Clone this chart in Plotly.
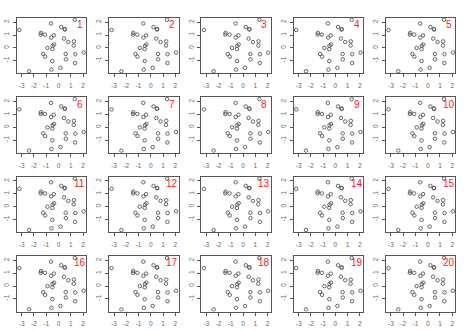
import plotly.graph_objects as go

# data (same in every panel)
x_vals = [1.33, -0.61, -3.2, 0.22, 0.5, 0.52, -1.43, -1.45, -1.1, -0.38, -0.6, 0.45, 0.8, 1.26, 1.24,
          -0.36, -0.48, -0.9, -0.5, -1.25, -1.09, 0.59, 1.37, 2.05, 0.6, -0.5, 1.36, -0.57, 0.16, -2.4]
y_vals = [2.19, 1.9, 1.39, 1.62, 1.46, 1.43, 1.17, 1.03, 1.03, 0.97, 0.8, 0.72, 0.45, 0.5, 0.18,
          0.26, 0.15, -0.01, -0.1, -0.48, -0.69, -0.48, -0.5, -0.37, -0.9, -1.03, -1.19, -1.7, -1.56, -1.83]
panel_labels = [str(i) for i in range(1, 21)]
x_ticks = [-3, -2, -1, 0, 1, 2]
y_ticks = [-1, 0, 1, 2]

W, H = 474, 330
nrows, ncols = 4, 5
box_left0, col_step, box_w = 16.7, 92.3, 69.5
box_top0, row_step, box_h = 17.7, 79.4, 55.6

def ext(v):
    lo, hi = min(v), max(v)
    d = (hi - lo) * 0.04
    return [lo - d, hi + d]

xr, yr = ext(x_vals), ext(y_vals)

fig = go.Figure()
layout = {}
for k in range(nrows * ncols):
    r, c = divmod(k, ncols)
    n = k + 1
    sfx = "" if n == 1 else str(n)
    left = box_left0 + c * col_step
    top = box_top0 + r * row_step
    xd = [left / W, (left + box_w) / W]
    yd = [1 - (top + box_h) / H, 1 - top / H]
    fig.add_trace(go.Scatter(
        x=x_vals, y=y_vals, mode="markers",
        marker=dict(symbol="circle-open", size=3.5, color="#555555", line=dict(width=0.9)),
        xaxis="x" + sfx, yaxis="y" + sfx, showlegend=False, hoverinfo="skip"))
    common = dict(showline=True, linecolor="#555555", linewidth=1, mirror=True,
                  showgrid=False, zeroline=False, ticks="outside", ticklen=3,
                  tickcolor="#555555", tickwidth=1,
                  tickfont=dict(size=6.5, color="#666666", family="Liberation Sans, Arial"))
    layout["xaxis" + sfx] = dict(domain=xd, range=xr, anchor="y" + sfx,
                                 tickvals=x_ticks, ticktext=[str(t) for t in x_ticks],
                                 ticklabelstandoff=3, **common)
    layout["yaxis" + sfx] = dict(domain=yd, range=yr, anchor="x" + sfx,
                                 tickvals=y_ticks, ticktext=[str(t) for t in y_ticks],
                                 tickangle=-90, ticklabelstandoff=1, **common)
    fig.add_annotation(text=panel_labels[k], xref=f"x{sfx} domain", yref=f"y{sfx} domain",
                       x=0.906, y=0.874, xanchor="center", yanchor="middle", showarrow=False,
                       font=dict(size=10, color="#ff1a1a", family="Liberation Sans, Arial"))

fig.update_layout(width=W, height=H, margin=dict(l=0, r=0, t=0, b=0),
                  paper_bgcolor="white", plot_bgcolor="white", **layout)
fig.write_html("out.html")
